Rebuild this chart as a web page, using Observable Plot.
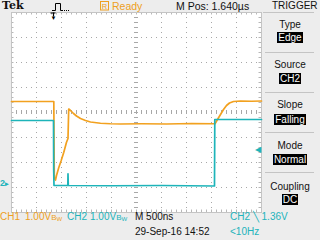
<!DOCTYPE html>
<html>
<head>
<meta charset="utf-8">
<script src="https://cdn.jsdelivr.net/npm/d3@7"></script>
<script src="https://cdn.jsdelivr.net/npm/@observablehq/plot@0.6"></script>
<style>
  html, body { margin: 0; padding: 0; }
  body { width: 320px; height: 240px; overflow: hidden; background: #ededed; position: relative;
         font-family: "Liberation Sans", Arial, sans-serif; }
  #chart { position: absolute; left: 0; top: 0; }
  .t { position: absolute; white-space: nowrap; font-size: 10px; line-height: 12px; color: #111; }
  .or { color: #ee9f22; }
  .cy { color: #22b3bb; }
  .lab { position: absolute; left: 262px; width: 56px; text-align: center; font-size: 10px; line-height: 11px; color: #111; }
  .box { display: inline-block; background: #000; color: #fff; padding: 0 1px; }
  .sep { position: absolute; left: 265px; width: 49px; height: 1px; background: #c4c4c4; }
  .bw { font-size: 8px; }
  .bw sub { font-size: 6px; vertical-align: -1px; }
</style>
</head>
<body>
<div id="chart"></div>

<div class="t" style="left:2px;top:0px;font-family:'DejaVu Serif',serif;font-weight:bold;font-size:11px;">Tek</div>
<svg style="position:absolute;left:52px;top:1px" width="18" height="11">
  <path d="M0 9.5 H3.5 V2.5 H8.5 V9.5 H10" fill="none" stroke="#000" stroke-width="1"/>
  <path d="M10 9.5 H18" fill="none" stroke="#000" stroke-width="1" stroke-dasharray="1,1"/>
</svg>
<svg style="position:absolute;left:100px;top:1px" width="9" height="10">
  <rect x="0.5" y="0.5" width="8" height="8.5" fill="none" stroke="#ee9f22"/>
  <text x="4.5" y="7.8" text-anchor="middle" font-size="7.5" font-family="Liberation Sans" fill="#ee9f22">R</text>
</svg>
<div class="t or" style="left:112px;top:0px;font-size:10.5px;">Ready</div>
<div class="t" style="left:176px;top:0px;font-size:10.5px;">M Pos: 1.640µs</div>
<div class="t" style="left:272px;top:0px;">TRIGGER</div>
<div class="sep" style="top:12px;left:263px;width:51px;"></div>

<div class="lab" style="top:19px;">Type</div>
<div class="lab" style="top:32px;"><span class="box">Edge</span></div>
<div class="sep" style="top:52px;"></div>
<div class="lab" style="top:59px;">Source</div>
<div class="lab" style="top:73px;"><span class="box">CH2</span></div>
<div class="sep" style="top:92px;"></div>
<div class="lab" style="top:99px;">Slope</div>
<div class="lab" style="top:114px;"><span class="box">Falling</span></div>
<div class="sep" style="top:132px;"></div>
<div class="lab" style="top:140px;">Mode</div>
<div class="lab" style="top:154px;"><span class="box">Normal</span></div>
<div class="sep" style="top:172px;"></div>
<div class="lab" style="top:181px;">Coupling</div>
<div class="lab" style="top:194px;"><span class="box">DC</span></div>

<div class="t cy" style="left:0px;top:177px;font-size:9px;font-weight:bold;">2<span style="font-size:7px">▸</span></div>

<div class="t or" style="left:0px;top:211px;">CH1</div>
<div class="t or" style="left:25px;top:211px;">1.00V<span class="bw">B<sub>W</sub></span></div>
<div class="t cy" style="left:67px;top:211px;">CH2</div>
<div class="t cy" style="left:90px;top:211px;">1.00V<span class="bw">B<sub>W</sub></span></div>
<div class="t" style="left:135px;top:211px;">M 500ns</div>
<div class="t cy" style="left:230px;top:211px;">CH2 ╲ 1.36V</div>
<div class="t" style="left:135px;top:226px;">29-Sep-16 14:52</div>
<div class="t cy" style="left:230px;top:226px;">&lt;10Hz</div>

<script>
// ---- data (time in µs from left edge of screen, level in divisions from centre) ----
const orangeT = [0, 0.846, 0.856, 0.88, 0.90, 0.946, 0.994, 1.046, 1.10, 1.13, 1.144, 1.18, 1.24, 1.30, 1.38, 1.48, 1.58, 1.78, 1.98, 2.18, 2.6, 3.1, 3.6, 4.07, 4.12, 4.18, 4.24, 4.30, 4.36, 4.44, 4.58, 4.8, 5.0];
const orangeV = [0.44, 0.44, -2.64, -2.70, -2.52, -2.20, -1.92, -1.59, -1.19, -1.04, 0.14, 0.08, -0.04, -0.14, -0.24, -0.32, -0.38, -0.43, -0.45, -0.46, -0.45, -0.46, -0.44, -0.45, -0.28, -0.08, 0.12, 0.28, 0.38, 0.44, 0.46, 0.45, 0.46];
const cyanT = [0, 0.84, 0.844, 0.85, 1.126, 1.13, 1.136, 2.0, 3.0, 4.06, 4.066, 4.5, 5.0];
const cyanV = [-0.32, -0.32, -2.32, -2.92, -2.92, -2.45, -2.92, -2.93, -2.92, -2.94, -0.28, -0.28, -0.28];
const divX = [0.5, 1, 1.5, 2, 2.5, 3, 3.5, 4, 4.5];      // vertical graticule lines (µs), 500 ns/div
const divY = [-3, -2, -1, 0, 1, 2, 3];                      // horizontal graticule lines (div)
const minorX = d3.range(0, 5.0001, 0.1);                    // 5 minor ticks per division
const minorY = d3.range(-4, 4.0001, 0.2);
const trigLevel = [-1.48];                                   // CH2 trigger level 1.36 V
const trigPos = [0.84];                                      // trigger position (µs)

const orange = orangeT.map((t, i) => ({t, v: orangeV[i]}));
const cyan = cyanT.map((t, i) => ({t, v: cyanV[i]}));
const OR = "#f2a11f", CY = "#1db4b9";

const chart = Plot.plot({
  width: 320, height: 240,
  marginLeft: 11, marginRight: 59, marginTop: 12, marginBottom: 28,
  x: {domain: [0, 5], axis: null},
  y: {domain: [-4, 4], axis: null},
  style: {background: "transparent", overflow: "visible"},
  marks: [
    Plot.frame({fill: "white", stroke: "none"}),
    Plot.ruleX(divX, {stroke: "#a8a8a8", strokeDasharray: "1,4"}),
    Plot.ruleY(divY, {stroke: "#a8a8a8", strokeDasharray: "1,4"}),
    Plot.ruleX(minorX, {x: d => d, y1: -0.08, y2: 0.08, stroke: "#a8a8a8"}),
    Plot.ruleY(minorY, {y: d => d, x1: 2.46, x2: 2.54, stroke: "#a8a8a8"}),
    Plot.ruleX(minorX, {x: d => d, y1: 4, y2: 3.9, stroke: "#b8b8b8"}),
    Plot.ruleX(minorX, {x: d => d, y1: -4, y2: -3.9, stroke: "#b8b8b8"}),
    Plot.ruleY(minorY, {y: d => d, x1: 0, x2: 0.05, stroke: "#b8b8b8"}),
    Plot.ruleY(minorY, {y: d => d, x1: 5, x2: 4.95, stroke: "#b8b8b8"}),
    Plot.frame({stroke: "#c4c4c4"}),
    Plot.line(orange, {x: "t", y: "v", stroke: OR, strokeWidth: 1.7}),
    Plot.line(cyan, {x: "t", y: "v", stroke: CY, strokeWidth: 1.7}),
    Plot.text(trigLevel, {x: 5, y: d => d, text: () => "◀", textAnchor: "end", dx: -1, fill: CY, fontSize: 8}),
    Plot.ruleX(trigPos, {x: d => d, y1: 3.98, y2: 3.82, stroke: "#000", strokeWidth: 1.2}),
    Plot.text(trigPos, {x: d => d, y: 3.8, text: () => "▼", fill: "#000", fontSize: 6, dy: 1}),
    Plot.ruleY([3.98], {x1: d => trigPos[0] - 0.05, x2: d => trigPos[0] + 0.05, stroke: "#000"})
  ]
});
document.getElementById("chart").appendChild(chart);
</script>
</body>
</html>
